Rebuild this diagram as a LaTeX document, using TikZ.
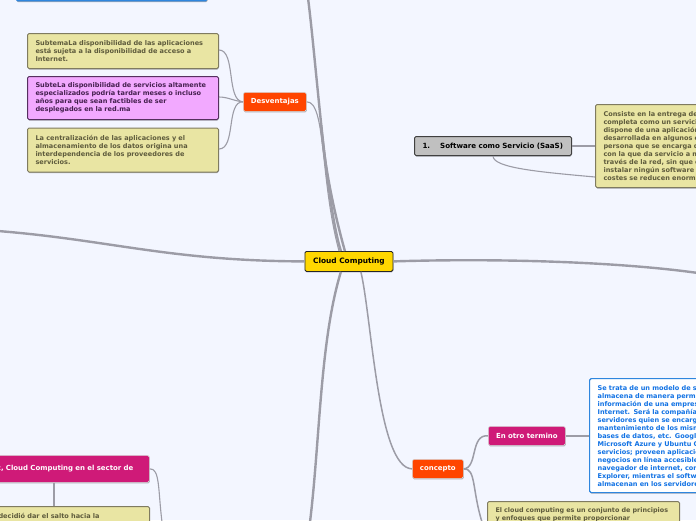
\documentclass[tikz,border=0pt]{standalone}
\usepackage{fontspec}
\setmainfont{DejaVu Sans}
\usetikzlibrary{shadows}
\hyphenpenalty=10000
\exhyphenpenalty=10000
\definecolor{bgc}{HTML}{F3F6FF}
\definecolor{yel}{HTML}{E9E5A3}
\definecolor{yelb}{HTML}{7F7B60}
\definecolor{yelt}{HTML}{5E5B3C}
\definecolor{lil}{HTML}{F2A9FF}
\definecolor{lilb}{HTML}{55305F}
\definecolor{lilt}{HTML}{45204F}
\definecolor{blu}{HTML}{2E86DE}
\definecolor{blut}{HTML}{1172E4}
\definecolor{ora}{HTML}{FF4500}
\definecolor{mag}{HTML}{CF1A78}
\definecolor{gol}{HTML}{FFD700}
\definecolor{gry}{HTML}{C0C0C0}
\definecolor{lin}{HTML}{9C9CA6}
\tikzset{
  base/.style={font=\fontsize{6.95}{8}\selectfont\bfseries, rounded corners=1.5pt, inner sep=0pt,
    drop shadow={shadow xshift=0.4pt,shadow yshift=-1pt,opacity=.3,fill=black}},
  note/.style={base, font=\fontsize{6.55}{8}\selectfont\bfseries, anchor=north west, align=left, text width=#1, inner xsep=8pt},
  yelnote/.style={note=#1, fill=yel, draw=yelb, line width=1pt, text=yelt},
  lilnote/.style={note=#1, fill=lil, draw=lilb, line width=1pt, text=lilt},
  blunote/.style={note=#1, fill=white, draw=blu, line width=1.2pt, text=blut},
  topic/.style={base, anchor=north west, align=center, text=white, draw=white!85!black, line width=0.7pt},
  orangetopic/.style={topic, fill=ora},
  magtopic/.style={topic, fill=mag},
  central/.style={base, font=\fontsize{7.4}{8}\selectfont\bfseries, anchor=north west, align=center, fill=gol, draw=black!85, line width=0.8pt, text=black},
  graytopic/.style={base, font=\fontsize{7.1}{8}\selectfont\bfseries, anchor=north west, align=left, fill=gry, draw=black!75, line width=1pt, text=black},
  thin link/.style={draw=lin, line width=1.1pt},
  mid link/.style={draw=lin, line width=1.5pt},
  thick link/.style={draw=lin, line width=2.4pt},
}
\begin{document}
\begin{tikzpicture}[x=1pt,y=-1pt]
\useasboundingbox (0,0) rectangle (696,520);
\clip (0,0) rectangle (696,520);
\fill[bgc] (0,0) rectangle (696,520);

\coordinate (topend) at (308,-2);
\coordinate (leftend) at (-2,231);
\coordinate (rightend) at (698,273);
\coordinate (bottomend) at (310,522);
\coordinate (pinkend) at (162,522);
\coordinate (cloudend) at (482,522);
\coordinate (desvjoin) at (339,251);
\coordinate (desvmid) at (321,125);
\coordinate (pinkdrop) at (54,0);

\node[base, anchor=north west, fill=blu, draw=blu, minimum width=191pt, minimum height=11pt] (topbox) at (16,-10) {};
\node[yelnote=175pt, minimum height=35pt] (boxa) at (27,33) {SubtemaLa disponibilidad de las aplicaciones\\está sujeta a la disponibilidad de acceso a\\Internet.};
\node[lilnote=175pt, minimum height=43pt] (boxb) at (27,76) {SubteLa disponibilidad de servicios altamente\\especializados podría tardar meses o incluso\\años para que sean factibles de ser\\desplegados en la red.ma};
\node[yelnote=175pt, minimum height=44pt] (boxc) at (27,127.5) {La centralización de las aplicaciones y el\\almacenamiento de los datos origina una\\interdependencia de los proveedores de\\servicios.};
\node[orangetopic, minimum width=63pt, minimum height=19pt] (desv) at (243,92) {Desventajas};
\node[central, minimum width=88pt, minimum height=20pt] (cloud) at (304.5,251) {Cloud Computing};
\node[graytopic, minimum width=157pt, minimum height=19pt, text width=141pt, inner xsep=8pt] (saas) at (414,136) {1.\hspace{10pt}Software como Servicio (SaaS)};
\node[yelnote=175pt, minimum height=83pt] (consiste) at (595,104) {Consiste en la entrega de\\completa como un servici\\dispone de una aplicación\\desarrollada en algunos c\\persona que se encarga d\\con la que da servicio a m\\través de la red, sin que e\\instalar ningún software a\\costes se reducen enorme};
\node[magtopic, minimum width=77pt, minimum height=19pt] (otro) at (488,426) {En otro termino};
\node[orangetopic, minimum width=51pt, minimum height=19pt] (concepto) at (412,459) {concepto};
\node[blunote=175pt, minimum height=114pt] (trata) at (589,378) {Se trata de un modelo de s\\almacena de manera perma\\información de una empres\\Internet. Será la compañía\\servidores quien se encarg\\mantenimiento de los mism\\bases de datos, etc. Google\\Microsoft Azure y Ubuntu C\\servicios; proveen aplicacio\\negocios en línea accesible\\navegador de internet, com\\Explorer, mientras el softw\\almacenan en los servidore};
\node[yelnote=176pt, font=\fontsize{6.4}{8}\selectfont\bfseries, minimum height=40pt, text depth=22pt] (cloudnote) at (487,501) {\mbox{El cloud computing es un conjunto de principios}\\y enfoques que permite proporcionar};
\node[magtopic, minimum width=159pt, minimum height=27pt, align=left, text width=143pt, inner xsep=8pt] (pink) at (-10,455) {\makebox[135pt][r]{c, Cloud Computing en el sector de}};
\node[yelnote=143pt, minimum height=40pt, text depth=22pt] (lower) at (-10,506) {decidió dar el salto hacia la};

\path[thin link] (boxa.east |- 0,50) .. controls (236,50) and (226,101) .. (desv.west);
\path[thin link] (boxb.east |- 0,97) .. controls (228,97) and (234,101) .. (desv.west);
\path[thin link] (boxc.east |- 0,149) .. controls (236,149) and (226,101) .. (desv.west);
\path[thin link] (desv.east) .. controls (326,101) and (320,180) .. (desvjoin);
\path[thick link] (cloud.north) ++(-8,0) .. controls (326,205) and (316,60) .. (topend);
\path[thick link] (cloud.north) ++(-4,0) .. controls (332,205) and (324,160) .. (desvmid);
\path[thick link] (cloud.west) .. controls (170,261) and (110,240) .. (leftend);
\path[thick link] (cloud.east) .. controls (500,258) and (620,262) .. (rightend);
\path[thick link] (cloud.south) ++(-8,0) .. controls (320,340) and (320,440) .. (bottomend);
\path[mid link] (cloud.south) ++(12,0) .. controls (372,320) and (378,468) .. (concepto.west);
\path[thin link] (saas.east) -- (consiste.west |- saas.east);
\path[thin link] (saas.south) .. controls (493,168) and (540,172) .. (consiste.west |- 0,177);
\path[mid link] (concepto.east) .. controls (478,468) and (470,434) .. (otro.west);
\path[mid link] (otro.east) -- (trata.west |- otro.east);
\path[mid link] (concepto.east) .. controls (476,468) and (472,490) .. (cloudend);
\path[thin link] (pink.east) .. controls (160,468) and (158,490) .. (pinkend);
\path[thin link] (pinkdrop |- pink.south) -- (pinkdrop |- lower.north);
\end{tikzpicture}
\end{document}
